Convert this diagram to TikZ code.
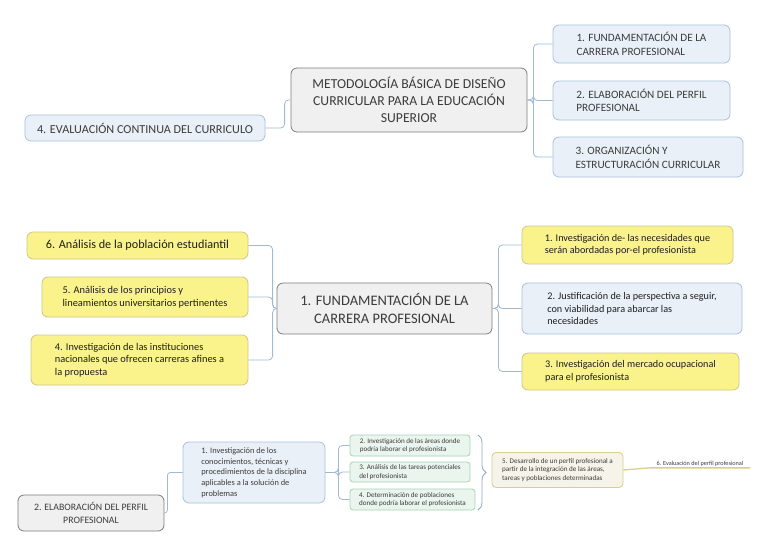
\documentclass[tikz,border=0pt]{standalone}
\usepackage{fontspec}
\setmainfont{Carlito}
\usetikzlibrary{decorations.pathreplacing}
\definecolor{linkblue}{RGB}{160,186,212}
\definecolor{bluefill}{RGB}{234,240,248}
\definecolor{bluedraw}{RGB}{168,192,218}
\definecolor{greyfill}{RGB}{240,240,240}
\definecolor{greydraw}{RGB}{125,125,125}
\definecolor{yellowfill}{RGB}{250,243,140}
\definecolor{yellowdraw}{RGB}{205,198,135}
\definecolor{greenfill}{RGB}{234,245,237}
\definecolor{greendraw}{RGB}{168,210,180}
\definecolor{beigefill}{RGB}{246,244,232}
\definecolor{beigedraw}{RGB}{216,206,142}
\definecolor{txtgray}{RGB}{60,60,60}
\definecolor{txtdark}{RGB}{30,30,30}

\begin{document}
\begin{tikzpicture}[x=1pt, y=-1pt,
	box/.style={rounded corners=6pt, align=left, inner sep=2pt, line width=0.8pt, text=txtgray},
	bluebox/.style={box, draw=bluedraw, fill=bluefill},
	greybox/.style={box, draw=greydraw, fill=greyfill, align=center},
	yellowbox/.style={box, draw=yellowdraw, fill=yellowfill, text=txtdark},
	greenbox/.style={box, draw=greendraw, fill=greenfill, rounded corners=3pt},
	beigebox/.style={box, draw=beigedraw, fill=beigefill, rounded corners=4pt},
	link/.style={draw=linkblue, line width=0.8pt, rounded corners=4pt}]
\useasboundingbox (0,0) rectangle (768,547);

% metodologia general
\node[greybox, minimum width=236pt, minimum height=64pt, font=\fontsize{13.7}{17}\selectfont] (metodo) at (409,100) {METODOLOGÍA BÁSICA DE DISEÑO\\CURRICULAR PARA LA EDUCACIÓN\\SUPERIOR};
\node[bluebox, minimum width=240pt, minimum height=26pt, font=\fontsize{12.2}{13}\selectfont] (eval) at (145,128) {4. EVALUACIÓN CONTINUA DEL CURRICULO};
\node[bluebox, minimum width=177pt, minimum height=38pt, font=\fontsize{11.2}{13.5}\selectfont] (etapa-1) at (641.5,44) {1. FUNDAMENTACIÓN DE LA\\CARRERA PROFESIONAL};
\node[bluebox, minimum width=177pt, minimum height=39pt, font=\fontsize{11.2}{13.5}\selectfont] (etapa-2) at (641.5,100.5) {2. ELABORACIÓN DEL PERFIL\\PROFESIONAL};
\node[bluebox, minimum width=190pt, minimum height=40pt, font=\fontsize{11.2}{13.5}\selectfont] (etapa-3) at (648,157) {3. ORGANIZACIÓN Y\\ESTRUCTURACIÓN CURRICULAR};
\draw[link] (metodo.west) -- ++(-6,0) |- (eval.east);
\draw[link] (metodo.east) -- ++(6,0) |- (etapa-1.west);
\draw[link] (metodo.east) -- ++(6,0) |- (etapa-2.west);
\draw[link] (metodo.east) -- ++(6,0) |- (etapa-3.west);

% fundamentacion
\node[greybox, minimum width=215pt, minimum height=51pt, font=\fontsize{14.5}{18.5}\selectfont] (fund) at (384.5,308.5) {1. FUNDAMENTACIÓN DE LA\\CARRERA PROFESIONAL};
\node[yellowbox, minimum width=221pt, minimum height=27pt, font=\fontsize{12.2}{14}\selectfont] (fund-6) at (137.5,245.5) {6. Análisis de la población estudiantil};
\node[yellowbox, minimum width=206pt, minimum height=40pt, font=\fontsize{10.4}{12.5}\selectfont] (fund-5) at (145,297) {5. Análisis de los principios y\\lineamientos universitarios pertinentes};
\node[yellowbox, minimum width=217pt, minimum height=50pt, font=\fontsize{10.4}{12.5}\selectfont] (fund-4) at (139.5,360) {4. Investigación de las instituciones\\nacionales que ofrecen carreras afines a\\la propuesta};
\node[yellowbox, minimum width=211pt, minimum height=38pt, font=\fontsize{10.2}{12.5}\selectfont] (fund-1) at (627.5,245) {1. Investigación de- las necesidades que\\serán abordadas por-el profesionista};
\node[bluebox, minimum width=220pt, minimum height=51pt, font=\fontsize{10.2}{12.5}\selectfont, text=txtdark] (fund-2) at (632,308.5) {2. Justificación de la perspectiva a seguir,\\con viabilidad para abarcar las\\necesidades};
\node[yellowbox, minimum width=217pt, minimum height=37pt, font=\fontsize{10.2}{12.5}\selectfont] (fund-3) at (630.5,371.5) {3. Investigación del mercado ocupacional\\para el profesionista};
\draw[link] (fund.west) -- ++(-4,0) |- (fund-6.east);
\draw[link] (fund.west) -- ++(-4,0) |- (fund-5.east);
\draw[link] (fund.west) -- ++(-4,0) |- (fund-4.east);
\draw[link] (fund.east) -- ++(6,0) |- (fund-1.west);
\draw[link] (fund.east) -- ++(6,0) |- (fund-2.west);
\draw[link] (fund.east) -- ++(6,0) |- (fund-3.west);

% perfil profesional
\node[greybox, minimum width=146pt, minimum height=36pt, font=\fontsize{9.8}{12.7}\selectfont] (perfil) at (91,513) {2. ELABORACIÓN DEL PERFIL\\PROFESIONAL};
\node[bluebox, minimum width=142pt, minimum height=61pt, font=\fontsize{8.4}{10.7}\selectfont] (perfil-1) at (254,472.5) {1. Investigación de los\\conocimientos, técnicas y\\procedimientos de la disciplina\\aplicables a la solución de\\problemas};
\node[greenbox, minimum width=120pt, minimum height=21pt, font=\fontsize{7.1}{8.7}\selectfont] (perfil-2) at (410,445.5) {2. Investigación de las áreas donde\\podría laborar el profesionista};
\node[greenbox, minimum width=120pt, minimum height=20pt, font=\fontsize{7.1}{8.7}\selectfont] (perfil-3) at (410,472) {3. Análisis de las tareas potenciales\\del profesionista};
\node[greenbox, minimum width=125pt, minimum height=21pt, font=\fontsize{7.1}{8.7}\selectfont] (perfil-4) at (412.5,499.5) {4. Determinación de poblaciones\\donde podría laborar el profesionista};
\node[beigebox, minimum width=131pt, minimum height=35pt, font=\fontsize{7.1}{8.7}\selectfont] (perfil-5) at (557.5,470) {5. Desarrollo de un perfil profesional a\\partir de la integración de las áreas,\\tareas y poblaciones determinadas};
\node[font=\fontsize{6.2}{7}\selectfont, text=txtgray, minimum width=100pt, inner sep=1pt] (perfil-6) at (700,464) {6. Evaluación del perfil profesional};
\coordinate (llave-a) at (478,435);
\coordinate (llave-b) at (478,510);
\draw[link, rounded corners=3pt] (perfil.east) -- ++(3,0) |- (perfil-1.west);
\draw[link] (perfil-1.east) -- ++(13,0) |- (perfil-2.west);
\draw[link] (perfil-1.east) -- ++(13,0) |- (perfil-3.west);
\draw[link] (perfil-1.east) -- ++(13,0) |- (perfil-4.west);
\draw[linkblue!90!black, line width=0.8pt, decorate, decoration={brace, amplitude=8pt}] (llave-a) -- (llave-b);
\draw[beigedraw, line width=1.3pt] (perfil-5.east) -- (perfil-6.south west) -- (perfil-6.south east);
\end{tikzpicture}
\end{document}
